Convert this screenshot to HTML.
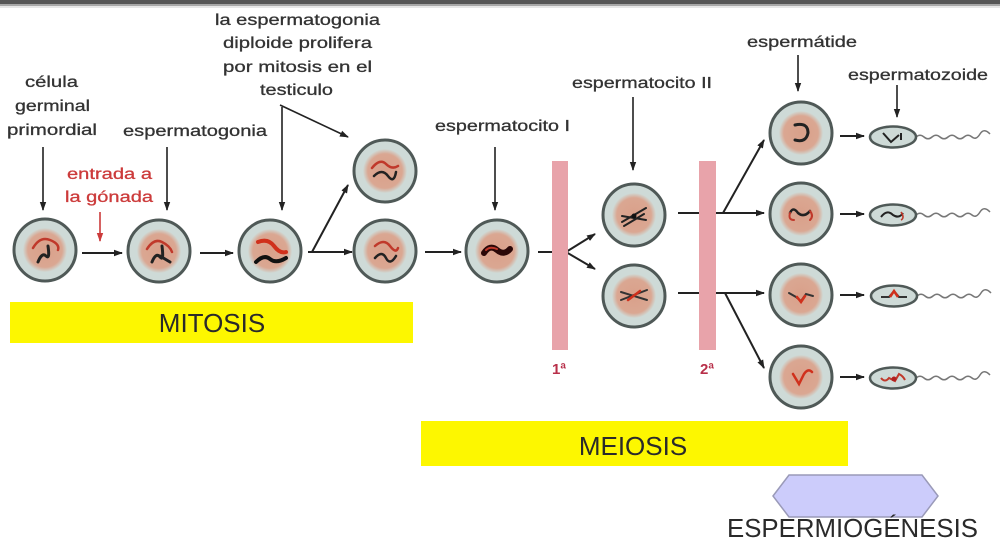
<!DOCTYPE html>
<html><head><meta charset="utf-8"><style>
html,body{margin:0;padding:0;background:#fff;}
svg{display:block;}
text{font-family:"Liberation Sans",Arial,sans-serif;}
.l{font-size:16px;fill:#333;stroke:#333;stroke-width:0.3;}
.r{font-size:16px;fill:#cc3b3b;stroke:#cc3b3b;stroke-width:0.3;}
.big{font-size:26px;fill:#2a2a2a;}
</style></head><body>
<svg width="1000" height="547" viewBox="0 0 1000 547" xmlns="http://www.w3.org/2000/svg">
<defs>
<marker id="ah" markerWidth="9" markerHeight="8" refX="8" refY="4" orient="auto" markerUnits="userSpaceOnUse"><path d="M0,0.8 L9,4 L0,7.2 z" fill="#222"/></marker>
<marker id="ahr" markerWidth="9" markerHeight="8" refX="8" refY="4" orient="auto" markerUnits="userSpaceOnUse"><path d="M0,0.8 L9,4 L0,7.2 z" fill="#cc3b3b"/></marker>
<radialGradient id="nuc" cx="0.5" cy="0.5" r="0.5">
<stop offset="0" stop-color="#d9a08a"/>
<stop offset="0.78" stop-color="#daa792"/>
<stop offset="1" stop-color="#cfd9d5"/>
</radialGradient>
<g id="cell">
<circle r="31" fill="#cedad7" stroke="#4f5957" stroke-width="3"/>
<circle r="22" fill="url(#nuc)"/>
</g>
</defs>
<rect x="0" y="0" width="1000" height="547" fill="#fff"/>
<rect x="0" y="0" width="1000" height="4" fill="#575757"/>
<rect x="0" y="4" width="1000" height="2" fill="#a8a8a8"/>
<rect x="0" y="6" width="1000" height="2" fill="#e8e8e8"/>

<!-- labels -->
<text class="l" x="25" y="87" textLength="53" lengthAdjust="spacingAndGlyphs">célula</text>
<text class="l" x="15" y="111" textLength="75" lengthAdjust="spacingAndGlyphs">germinal</text>
<text class="l" x="7" y="135" textLength="90" lengthAdjust="spacingAndGlyphs">primordial</text>
<text class="r" x="67" y="179" textLength="85" lengthAdjust="spacingAndGlyphs">entrada a</text>
<text class="r" x="65" y="202" textLength="88" lengthAdjust="spacingAndGlyphs">la gónada</text>
<text class="l" x="123" y="136" textLength="144" lengthAdjust="spacingAndGlyphs">espermatogonia</text>
<text class="l" x="215" y="25" textLength="165" lengthAdjust="spacingAndGlyphs">la espermatogonia</text>
<text class="l" x="223" y="48" textLength="149" lengthAdjust="spacingAndGlyphs">diploide prolifera</text>
<text class="l" x="223" y="72" textLength="149" lengthAdjust="spacingAndGlyphs">por mitosis en el</text>
<text class="l" x="260" y="95" textLength="73" lengthAdjust="spacingAndGlyphs">testiculo</text>
<text class="l" x="435" y="131" textLength="135" lengthAdjust="spacingAndGlyphs">espermatocito I</text>
<text class="l" x="572" y="88" textLength="140" lengthAdjust="spacingAndGlyphs">espermatocito II</text>
<text class="l" x="747" y="47" textLength="110" lengthAdjust="spacingAndGlyphs">espermátide</text>
<text class="l" x="848" y="80" textLength="140" lengthAdjust="spacingAndGlyphs">espermatozoide</text>

<!-- label arrows -->
<g stroke="#222" stroke-width="1.6" fill="none">
<line x1="43" y1="147" x2="43" y2="210" marker-end="url(#ah)"/>
<line x1="167" y1="147" x2="167" y2="210" marker-end="url(#ah)"/>
<line x1="282" y1="107" x2="282" y2="210" marker-end="url(#ah)"/>
<line x1="280" y1="105" x2="348" y2="137" marker-end="url(#ah)"/>
<line x1="495" y1="147" x2="495" y2="210" marker-end="url(#ah)"/>
<line x1="633" y1="97" x2="633" y2="170" marker-end="url(#ah)"/>
<line x1="798" y1="55" x2="798" y2="91" marker-end="url(#ah)"/>
<line x1="897" y1="85" x2="897" y2="117" marker-end="url(#ah)"/>
</g>
<line x1="100" y1="212" x2="100" y2="241" stroke="#cc3b3b" stroke-width="1.6" marker-end="url(#ahr)"/>

<!-- flow arrows -->
<g stroke="#222" stroke-width="2" fill="none">
<line x1="82" y1="253" x2="122" y2="253" marker-end="url(#ah)"/>
<line x1="200" y1="253" x2="233" y2="253" marker-end="url(#ah)"/>
<line x1="308" y1="252" x2="352" y2="252" marker-end="url(#ah)"/>
<line x1="312" y1="252" x2="348" y2="185" marker-end="url(#ah)"/>
<line x1="425" y1="252" x2="461" y2="252" marker-end="url(#ah)"/>
<line x1="538" y1="252" x2="555" y2="252"/>
<line x1="566" y1="252" x2="595" y2="234" marker-end="url(#ah)"/>
<line x1="566" y1="252" x2="595" y2="269" marker-end="url(#ah)"/>
<line x1="678" y1="213" x2="702" y2="213"/>
<line x1="714" y1="213" x2="764" y2="213" marker-end="url(#ah)"/>
<line x1="723" y1="213" x2="764" y2="140" marker-end="url(#ah)"/>
<line x1="678" y1="293" x2="702" y2="293"/>
<line x1="714" y1="293" x2="764" y2="293" marker-end="url(#ah)"/>
<line x1="725" y1="293" x2="764" y2="368" marker-end="url(#ah)"/>
<line x1="840" y1="136" x2="864" y2="136" marker-end="url(#ah)"/>
<line x1="840" y1="214" x2="864" y2="214" marker-end="url(#ah)"/>
<line x1="840" y1="295" x2="864" y2="295" marker-end="url(#ah)"/>
<line x1="840" y1="377" x2="864" y2="377" marker-end="url(#ah)"/>
</g>

<!-- meiosis bars -->
<rect x="552" y="161" width="16" height="189" fill="#e8a3aa"/>
<rect x="699" y="161" width="17" height="189" fill="#e8a3aa"/>
<text x="552" y="374" font-size="15" font-weight="bold" fill="#b8304a">1ª</text>
<text x="700" y="374" font-size="15" font-weight="bold" fill="#b8304a">2ª</text>

<!-- cells -->
<use href="#cell" x="45" y="250"/>
<use href="#cell" x="159" y="251"/>
<use href="#cell" x="270" y="251"/>
<use href="#cell" x="385" y="171"/>
<use href="#cell" x="385" y="251"/>
<use href="#cell" x="497" y="251"/>
<use href="#cell" x="634" y="215"/>
<use href="#cell" x="634" y="296"/>
<use href="#cell" x="801" y="133"/>
<use href="#cell" x="801" y="214"/>
<use href="#cell" x="801" y="295"/>
<use href="#cell" x="801" y="377"/>

<!-- chromosomes -->
<g fill="none" stroke-linecap="round">
<path d="M33,248 Q40,236 50,240 T58,250" stroke="#c0392b" stroke-width="2.5"/>
<path d="M38,262 Q42,252 46,256 T48,246" stroke="#222" stroke-width="3"/>
<path d="M147,249 Q154,238 162,242 T172,252" stroke="#c0392b" stroke-width="2.5"/>
<path d="M152,262 Q156,252 160,257 T162,246 M160,256 L170,262" stroke="#222" stroke-width="3"/>
<path d="M258,242 Q268,238 274,246 T286,252" stroke="#d0301c" stroke-width="4"/>
<path d="M256,262 Q264,254 270,259 T286,258" stroke="#111" stroke-width="4"/>
<path d="M372,168 Q380,158 386,164 T398,166" stroke="#c0392b" stroke-width="2.5"/>
<path d="M374,176 Q382,168 388,176 T396,172" stroke="#222" stroke-width="2.5"/>
<path d="M375,246 Q384,238 390,246 T398,248" stroke="#c0392b" stroke-width="2.5"/>
<path d="M375,258 Q382,250 386,258 T396,256" stroke="#222" stroke-width="2.5"/>
<path d="M484,253 Q490,244 497,250 T510,249" stroke="#2a0808" stroke-width="6"/>
<path d="M486,250 Q490,246 497,249" stroke="#c0392b" stroke-width="2"/>
<path d="M622,222 L646,208 M622,216 L646,220 M624,226 L644,214" stroke="#222" stroke-width="2"/>
<circle cx="634" cy="216" r="2.5" fill="#111"/>
<path d="M621,292 L647,300 M621,300 L647,290" stroke="#333" stroke-width="2"/>
<path d="M628,300 L640,291" stroke="#d0301c" stroke-width="2.5"/>
<path d="M795,125 Q808,122 808,133 Q806,143 795,140" stroke="#222" stroke-width="3"/>
<path d="M790,213 Q793,206 798,213 Q804,218 810,211" stroke="#222" stroke-width="2.5"/>
<path d="M790,213 Q788,220 794,220 M810,211 Q814,216 810,220" stroke="#c0392b" stroke-width="2"/>
<path d="M789,293 L796,297 L801,301 L806,294 L813,296" stroke="#333" stroke-width="2"/>
<path d="M797,297 L801,302 L805,296" stroke="#d0301c" stroke-width="2.5"/>
<path d="M793,374 L799,384 L804,374 Q808,368 812,372" stroke="#d0301c" stroke-width="2.5"/>
</g>

<!-- sperm -->
<g>
<g transform="translate(893,137)">
<path d="M23,0 Q27,-3.5 31,0 T39,0 T47,0 T55,0 T63,0 T71,0 T79,0 T87,-3 T97,-3" fill="none" stroke="#777" stroke-width="1.5"/>
<ellipse rx="23" ry="10.5" fill="#cedad7" stroke="#4f5957" stroke-width="2.5"/>
<path d="M-10,-4 L-2,5 L6,-2 M8,-4 L8,3" fill="none" stroke="#222" stroke-width="2"/>
</g>
<g transform="translate(893,215)">
<path d="M23,0 Q27,-3.5 31,0 T39,0 T47,0 T55,0 T63,0 T71,0 T79,0 T87,-3 T97,-3" fill="none" stroke="#777" stroke-width="1.5"/>
<ellipse rx="23" ry="10.5" fill="#cedad7" stroke="#4f5957" stroke-width="2.5"/>
<path d="M-12,2 Q-6,-6 0,0 Q6,4 10,-2" fill="none" stroke="#222" stroke-width="2"/>
<path d="M8,-3 Q12,3 8,5" fill="none" stroke="#c0392b" stroke-width="1.6"/>
</g>
<g transform="translate(894,296)">
<path d="M23,0 Q27,-3.5 31,0 T39,0 T47,0 T55,0 T63,0 T71,0 T79,0 T87,-3 T97,-3" fill="none" stroke="#777" stroke-width="1.5"/>
<ellipse rx="23" ry="10.5" fill="#cedad7" stroke="#4f5957" stroke-width="2.5"/>
<path d="M-13,1 L-5,1 L0,-5 L5,1 L13,1" fill="none" stroke="#333" stroke-width="2"/>
<path d="M-4,1 L0,-5 L4,1" fill="none" stroke="#d0301c" stroke-width="2.5"/>
</g>
<g transform="translate(893,378)">
<path d="M23,0 Q27,-3.5 31,0 T39,0 T47,0 T55,0 T63,0 T71,0 T79,0 T87,-3 T97,-3" fill="none" stroke="#777" stroke-width="1.5"/>
<ellipse rx="23" ry="10.5" fill="#cedad7" stroke="#4f5957" stroke-width="2.5"/>
<path d="M-12,0 Q-8,5 -4,0 L2,3 L6,-4 Q10,-2 12,2" fill="none" stroke="#c0392b" stroke-width="2"/>
<circle cx="1" cy="1" r="2.5" fill="#b02020"/>
</g>
</g>

<!-- phase bars -->
<rect x="10" y="302" width="403" height="41" fill="#fdf700"/>
<text class="big" x="212" y="332" text-anchor="middle">MITOSIS</text>
<rect x="421" y="421" width="427" height="45" fill="#fdf700"/>
<text class="big" x="633" y="455" text-anchor="middle">MEIOSIS</text>

<polygon points="773,496 789,475 922,475 938,496 922,517 789,517" fill="#ccccfb" stroke="#9a9ab8" stroke-width="1.5"/>
<text class="big" x="727" y="537" textLength="251" lengthAdjust="spacingAndGlyphs">ESPERMIOGÉNESIS</text>
</svg>
</body></html>
